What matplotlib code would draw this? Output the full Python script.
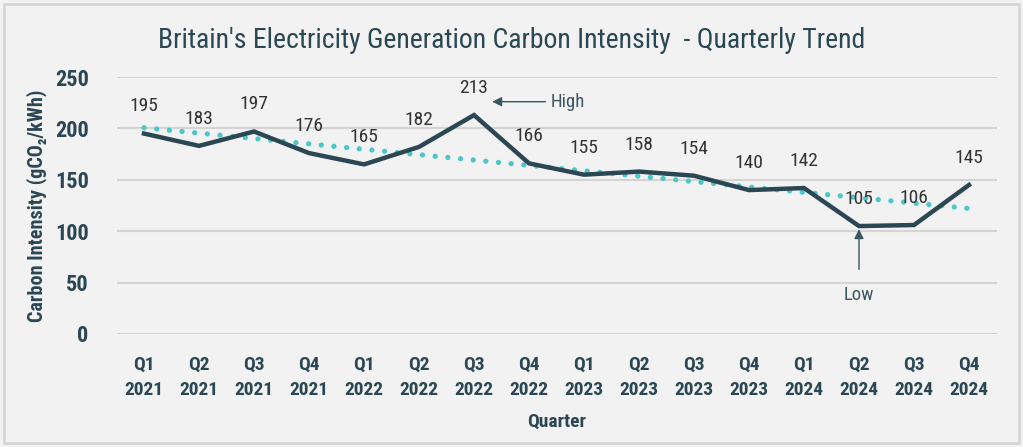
import numpy as np
import matplotlib.pyplot as plt
from matplotlib import font_manager
from matplotlib.patches import Rectangle

quarters = ['Q1\n2021', 'Q2\n2021', 'Q3\n2021', 'Q4\n2021',
            'Q1\n2022', 'Q2\n2022', 'Q3\n2022', 'Q4\n2022',
            'Q1\n2023', 'Q2\n2023', 'Q3\n2023', 'Q4\n2023',
            'Q1\n2024', 'Q2\n2024', 'Q3\n2024', 'Q4\n2024']
intensity = [195, 183, 197, 176, 165, 182, 213, 166, 155, 158, 154, 140, 142, 105, 106, 145]
yticks = [0, 50, 100, 150, 200, 250]

dark = '#2a4753'
teal = '#4cc7c9'
bg = '#f2f2f2'

# pick a narrow face if one is around, otherwise condensed DejaVu
names = set(f.name for f in font_manager.fontManager.ttflist)
narrow = None
for n in ['Roboto Condensed', 'Liberation Sans Narrow', 'Open Sans Condensed',
          'Noto Sans Condensed', 'DejaVu Sans Condensed']:
    if n in names:
        narrow = n
        break
if narrow:
    plt.rcParams['font.family'] = [narrow, 'DejaVu Sans']
else:
    plt.rcParams['font.family'] = ['DejaVu Sans']
    plt.rcParams['font.stretch'] = 'condensed'

fig = plt.figure(figsize=(10.23, 4.47), dpi=100, facecolor=bg)
fig.patches.append(Rectangle((0.004, 0.008), 0.992, 0.984, transform=fig.transFigure,
                             fill=False, edgecolor='#d6d6d6', linewidth=2))
ax = fig.add_axes([0.1139, 0.2528, 0.8602, 0.5749])
ax.set_facecolor(bg)

x = np.arange(len(quarters))
# linear trendline like the spreadsheet one
k, b = np.polyfit(x, intensity, 1)
ax.plot(x, k * x + b, linestyle=(0, (0.01, 2.4)), color=teal, linewidth=3.8,
        dash_capstyle='round', zorder=2)
ax.plot(x, intensity, color=dark, linewidth=3.2, solid_joinstyle='miter', zorder=3)

for xi, v in zip(x, intensity):
    ax.annotate(str(v), (xi, v), xytext=(0, 13), textcoords='offset points',
                ha='center', va='bottom', fontsize=14, color='#333333')

ax.annotate('High', xy=(6.28, 226), xytext=(7.4, 226), va='center', ha='left',
            fontsize=13.5, color='#3d5560',
            arrowprops=dict(arrowstyle='-|>', color='#3d5560', lw=1, mutation_scale=14))
ax.annotate('Low', xy=(13, 102), xytext=(13, 38), va='center', ha='center',
            fontsize=13.5, color='#3d5560',
            arrowprops=dict(arrowstyle='-|>', color='#3d5560', lw=1, mutation_scale=14,
                            shrinkB=0, shrinkA=10))

ax.set_xlim(-0.5, len(quarters) - 0.5)
ax.set_ylim(0, 250)
ax.set_yticks(yticks)
ax.set_xticks(x)
ax.set_xticklabels(quarters, fontsize=14, fontweight='bold', color=dark, linespacing=1.45)
ax.set_yticklabels([str(t) for t in yticks], fontsize=16, fontweight='bold', color=dark)
ax.tick_params(length=0, pad=16)
ax.tick_params(axis='y', pad=20)
ax.grid(axis='y', color='#d4d4d4', linewidth=1.5)
ax.set_axisbelow(True)
for s in ax.spines.values():
    s.set_visible(False)

ax.set_xlabel('Quarter', fontsize=14, fontweight='bold', color=dark, labelpad=10)
ax.set_ylabel('Carbon Intensity (gCO₂/kWh)', fontsize=14.5, fontweight='bold', color=dark, labelpad=6)
fig.text(0.5, 0.91, "Britain's Electricity Generation Carbon Intensity  - Quarterly Trend",
         ha='center', va='center', fontsize=20, color=dark)

fig.savefig('out.png', dpi=100, facecolor=bg)
